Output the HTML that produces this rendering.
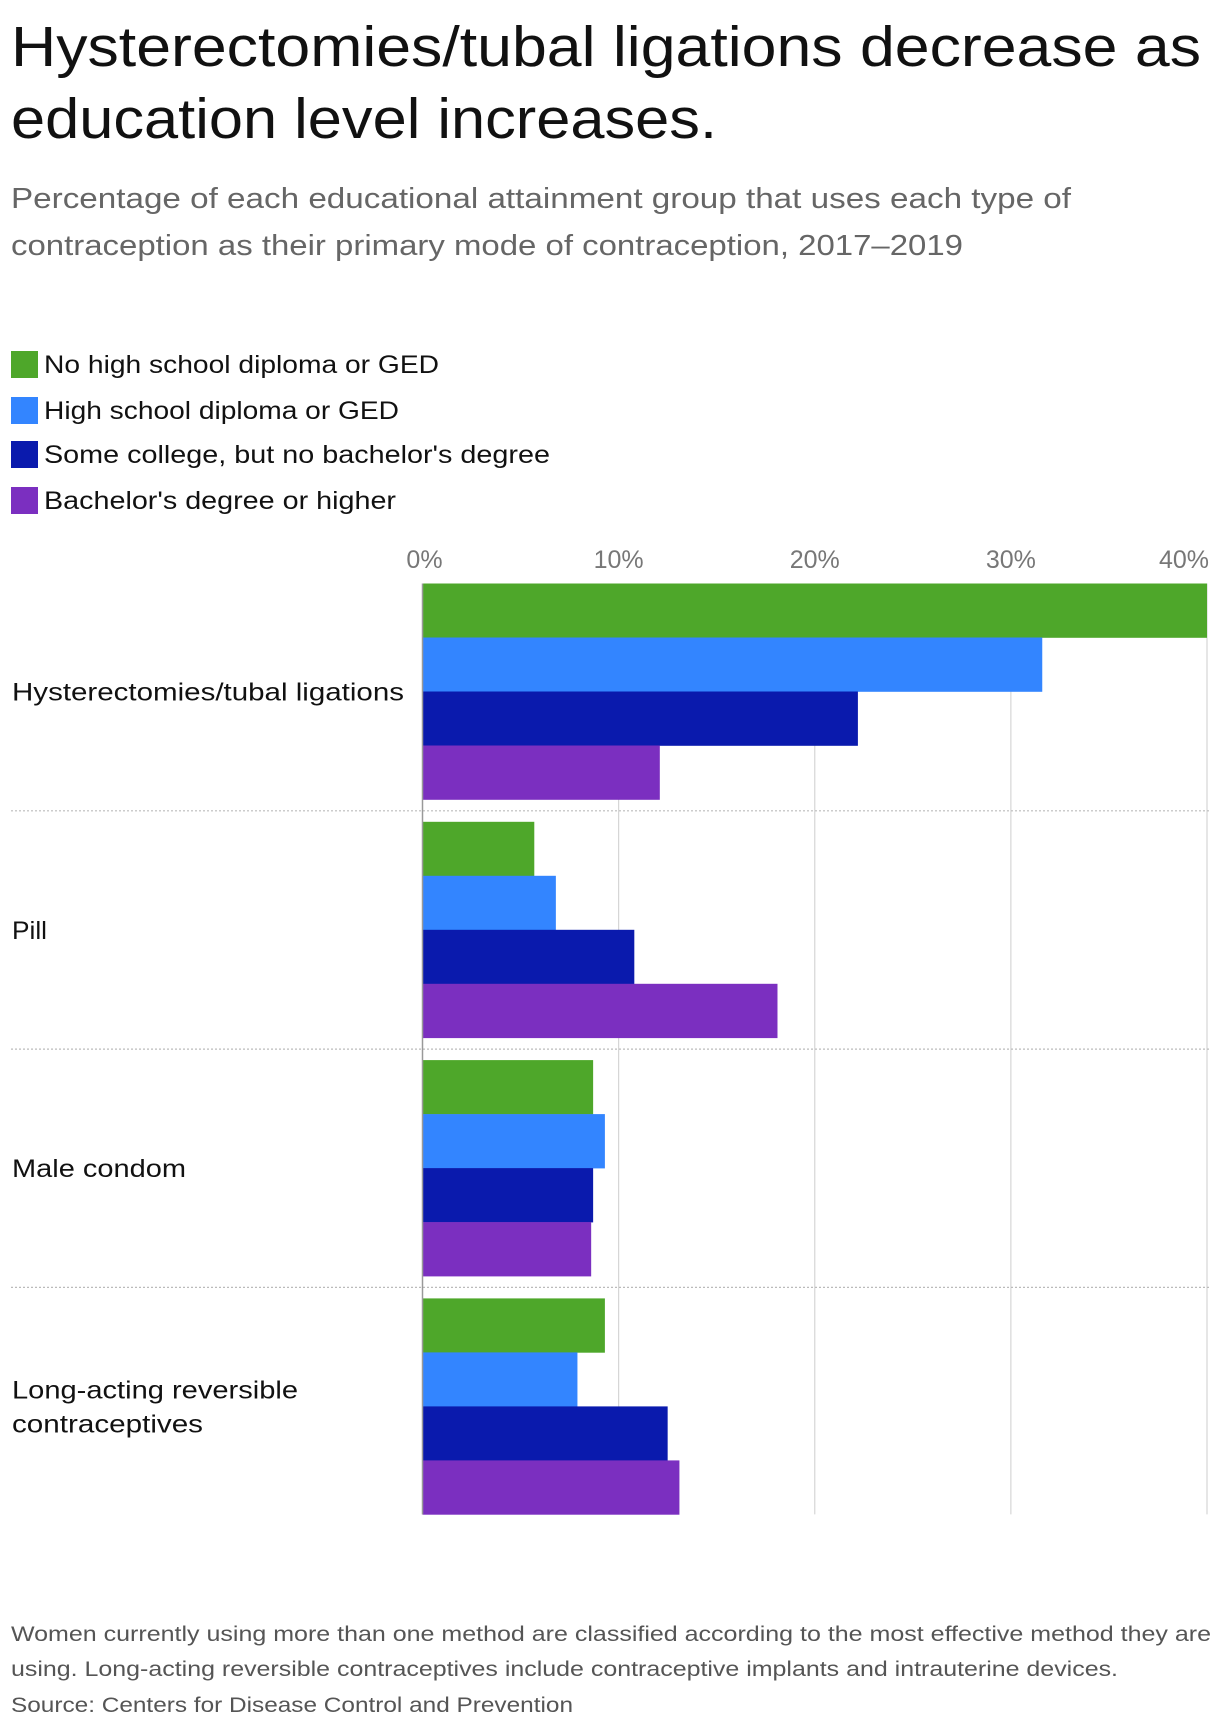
<!DOCTYPE html>
<html><head><meta charset="utf-8"><style>
html,body{margin:0;padding:0;background:#fff;}
svg{display:block;font-family:"Liberation Sans",Arial,sans-serif;}
</style></head><body>
<svg id="chart" width="1220" height="1730" viewBox="0 0 1220 1730">
<text x="11" y="66" font-size="57" fill="#111" textLength="1190" lengthAdjust="spacingAndGlyphs">Hysterectomies/tubal ligations decrease as</text>
<text x="11" y="138" font-size="57" fill="#111" textLength="706" lengthAdjust="spacingAndGlyphs">education level increases.</text>
<text x="11" y="208" font-size="29" fill="#666" textLength="1060" lengthAdjust="spacingAndGlyphs">Percentage of each educational attainment group that uses each type of</text>
<text x="11" y="255" font-size="29" fill="#666" textLength="952" lengthAdjust="spacingAndGlyphs">contraception as their primary mode of contraception, 2017–2019</text>
<g id="legend"></g>
<g id="grid"></g>
<g id="bars"></g>
<g id="labels"></g>
<text x="11" y="1641" font-size="21" fill="#555" textLength="1200" lengthAdjust="spacingAndGlyphs">Women currently using more than one method are classified according to the most effective method they are</text>
<text x="11" y="1676" font-size="21" fill="#555" textLength="1107" lengthAdjust="spacingAndGlyphs">using. Long-acting reversible contraceptives include contraceptive implants and intrauterine devices.</text>
<text x="11" y="1712" font-size="21" fill="#555" textLength="562" lengthAdjust="spacingAndGlyphs">Source: Centers for Disease Control and Prevention</text>
</svg>
<script>
const categories = ["Hysterectomies/tubal ligations", "Pill", "Male condom", "Long-acting reversible contraceptives"];
const seriesNames = ["No high school diploma or GED", "High school diploma or GED", "Some college, but no bachelor's degree", "Bachelor's degree or higher"];
const noHS = [40.0, 5.7, 8.7, 9.3];
const hsGED = [31.6, 6.8, 9.3, 7.9];
const someCollege = [22.2, 10.8, 8.7, 12.5];
const bachelors = [12.1, 18.1, 8.6, 13.1];
const ticks = [0, 10, 20, 30, 40];
const tickLabels = ["0%", "10%", "20%", "30%", "40%"];

const series = [noHS, hsGED, someCollege, bachelors];
const colors = ["#4ea72a", "#3385ff", "#0a1aad", "#7b2fc0"];
const legendW = [395, 355, 506, 352];
const NS = "http://www.w3.org/2000/svg";
const x0 = 422.5, x1 = 1207, xMax = 40;
const xs = v => x0 + (v / xMax) * (x1 - x0);
const top0 = 583.5, groupPitch = 238.3, barH = 54;
function mk(tag, attrs, parent) {
  const e = document.createElementNS(NS, tag);
  for (const k in attrs) e.setAttribute(k, attrs[k]);
  parent.appendChild(e);
  return e;
}
const legend = document.getElementById('legend');
const legendY = [364, 410, 454, 500];
seriesNames.forEach((n, i) => {
  const r = mk('rect', {x: 11, y: legendY[i] - 13, width: 27, height: 27, fill: colors[i]}, legend);
  
  
  const t = mk('text', {x: 44, y: legendY[i] + 9, 'font-size': 25, fill: '#111', textLength: legendW[i], lengthAdjust: 'spacingAndGlyphs'}, legend);
  t.textContent = n;
  
  
});
const grid = document.getElementById('grid');
const bottom = top0 + groupPitch * 3 + barH * 4;
ticks.forEach((v, i) => {
  if (i > 0) {
    const l = mk('line', {x1: xs(v), x2: xs(v), y1: top0, y2: bottom, stroke: '#d6d6d6', 'stroke-width': 1.2}, grid);
    
    
  }
  const t = mk('text', {x: xs(v), y: 568, 'font-size': 25, fill: '#777', 'text-anchor': i === ticks.length - 1 ? 'end' : 'middle'}, grid);
  if (i === ticks.length - 1) t.setAttribute('x', x1 + 2);
  if (i === 0) t.setAttribute('x', xs(v) + 2);
  t.textContent = tickLabels[i];
  
  
});
for (let g = 1; g < categories.length; g++) {
  const y = top0 + groupPitch * g - 11;
  const l = mk('line', {x1: 11, x2: 1210, y1: y, y2: y, stroke: '#bbb', 'stroke-width': 1.2, 'stroke-dasharray': '2,2'}, grid);
  
  
}
const bars = document.getElementById('bars');
categories.forEach((c, g) => {
  series.forEach((s, i) => {
    const y = top0 + groupPitch * g + barH * i;
    const r = mk('rect', {x: x0, y: y, width: xs(s[g]) - x0, height: barH + 0.3, fill: colors[i]}, bars);
    
    
  });
});
const axis = mk('line', {x1: x0, x2: x0, y1: top0, y2: bottom, stroke: '#999', 'stroke-width': 1.5}, bars);


const labelW = {"Hysterectomies/tubal ligations": 392, "Pill": 35, "Male condom": 174, "Long-acting reversible": 286, "contraceptives": 191};
const labels = document.getElementById('labels');
categories.forEach((c, g) => {
  const cy = top0 + groupPitch * g + barH * 2;
  const lines = c === "Long-acting reversible contraceptives" ? ["Long-acting reversible", "contraceptives"] : [c];
  lines.forEach((ln, j) => {
    const t = mk('text', {x: 12, y: cy + 9 + (j - (lines.length - 1) / 2) * 34, 'font-size': 25, fill: '#111', textLength: labelW[ln], lengthAdjust: 'spacingAndGlyphs'}, labels);
    t.textContent = ln;
    
    
  });
});
</script>
</body></html>
